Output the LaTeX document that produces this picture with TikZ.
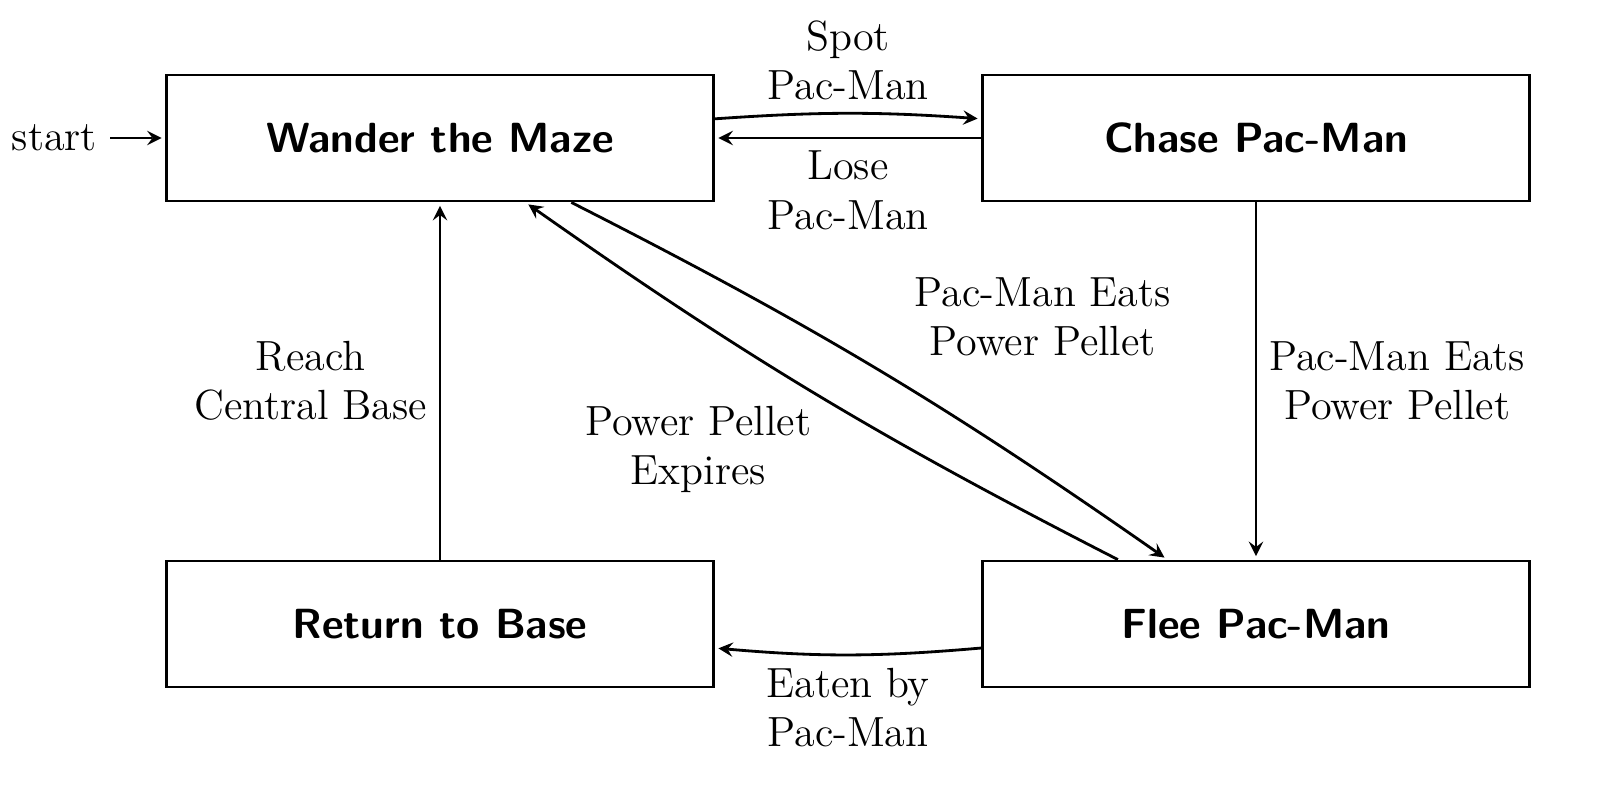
\documentclass[tikz,border=0pt]{standalone}
\usepackage{amsmath}
\usetikzlibrary{automata,positioning}

\begin{document}
\begin{tikzpicture}[shorten >=1pt,node distance=2cm,on grid,auto,>=stealth,
  every state/.style={rectangle,draw,thick,minimum width=5.47cm,minimum height=1.26cm,
    font=\large\sffamily\bfseries},
  every edge/.style={draw,thick},
  lbl/.style={align=center,font=\large}]
  \node[state,initial,initial text={\large start},initial distance=0.55cm] (wander) at (4.40,6.50) {Wander the Maze};
  \node[state] (chase) at (12.56,6.50) {Chase Pac-Man};
  \node[state] (ret) at (4.40,1.64) {Return to Base};
  \node[state] (flee) at (12.56,1.64) {Flee Pac-Man};
    \path[->]
    (wander) edge [bend left=4] node [lbl] {Spot\\Pac-Man} (chase)
             edge [bend left=4] node [lbl,pos=0.5,anchor=south west,xshift=0.25cm] {Pac-Man Eats\\Power Pellet} (flee.144)
    (chase)  edge node [lbl] {Lose\\Pac-Man} (wander)
             edge node [lbl] {Pac-Man Eats\\Power Pellet} (flee)
    (flee)   edge [bend left=5] node [lbl] {Eaten by\\Pac-Man} (ret)
    (flee.155) edge [bend left=4] node [lbl,pos=0.5,anchor=north east,xshift=0.1cm] {Power Pellet\\Expires} (wander.-37)
    (ret)    edge node [lbl] {Reach\\Central Base} (wander);
  \pgfresetboundingbox
  \path[use as bounding box] (0,0) rectangle (16.12,7.88);
\end{tikzpicture}
\end{document}
